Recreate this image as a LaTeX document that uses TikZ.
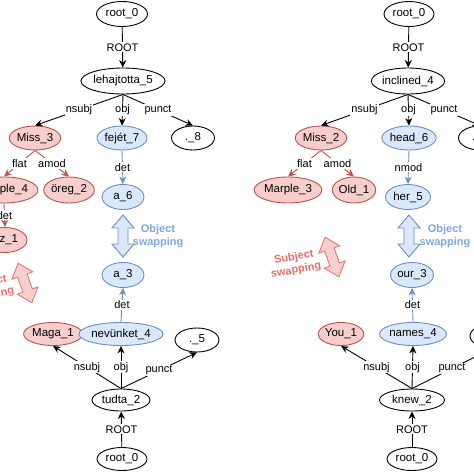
\documentclass[tikz,border=0pt]{standalone}
\usepackage{fontspec}
\setmainfont{Liberation Sans}
\usetikzlibrary{shapes.geometric,arrows.meta}
\definecolor{redfill}{HTML}{F8CECC}
\definecolor{redline}{HTML}{B85450}
\definecolor{bluefill}{HTML}{DAE8FC}
\definecolor{blueline}{HTML}{6C8EBF}
\definecolor{subjtext}{HTML}{EA6B66}
\definecolor{objtext}{HTML}{7EA6E0}
\definecolor{subjarrline}{HTML}{E07B78}
\definecolor{subjarrfill}{HTML}{F8CECC}
\newcommand{\swaparrow}{(0,-21) -- (11,-8) -- (5,-8) -- (5,8) -- (11,8) -- (0,21) -- (-11,8) -- (-5,8) -- (-5,-8) -- (-11,-8) -- cycle}
\begin{document}
\begin{tikzpicture}[x=1pt,y=-1pt,
  tok/.style={ellipse, draw=black, line width=0.9pt, inner sep=0pt, font=\fontsize{11.5}{13}\selectfont},
  subjtok/.style={tok, draw=redline, fill=redfill},
  objtok/.style={tok, draw=blueline, fill=bluefill},
  sz/.style 2 args={minimum width=#1pt, minimum height=#2pt},
  edge/.style={draw=black, line width=0.9pt, -{Stealth[length=7.5pt,width=7pt]}},
  subjedge/.style={edge, draw=redline, -{Stealth[length=7.5pt,width=7pt,color=redline]}},
  objedge/.style={edge, draw=blueline, -{Stealth[length=7.5pt,width=7pt,color=blueline]}},
  lab/.style={fill=white, inner sep=1pt, font=\fontsize{11}{13}\selectfont, text=black},
  objarrow/.style={draw=blueline, fill=bluefill, line width=0.9pt, line join=miter},
  subjarrow/.style={draw=subjarrline, fill=subjarrfill, line width=0.9pt, line join=miter},
  objlab/.style={align=center, font=\bfseries\fontsize{11}{13}\selectfont, text=objtext, inner sep=0pt},
  subjlab/.style={align=center, font=\bfseries\fontsize{11}{13}\selectfont, text=subjtext, inner sep=0pt},
]
\useasboundingbox (0,0) rectangle (474,474);
\clip (0,0) rectangle (474,474);

% ===== Left tree =====
\node[tok, sz={51}{25}] (lr0) at (122,14) {root\_0};
\node[tok, sz={68}{26}] (leh) at (123,81) {lehajtotta\_5};
\node[subjtok, sz={44}{24}] (miss3) at (35,138) {Miss\_3};
\node[objtok, sz={50}{24}] (fej7) at (122,138) {fejét\_7};
\node[tok, sz={43}{24}] (p8) at (193,138) {.\_8};
\node[subjtok, sz={56}{26}] (marple4) at (4,190) {Marple\_4};
\node[subjtok, sz={41}{26}] (oreg2) at (69,190) {öreg\_2};
\node[objtok, sz={42}{25}] (a6) at (123,197) {a\_6};
\node[subjtok, sz={44}{25}] (az1) at (5,240) {Az\_1};
\node[objtok, sz={42}{25}] (a3) at (123,275) {a\_3};
\node[subjtok, sz={43}{23}] (maga1) at (53,334) {Maga\_1};
\node[objtok, sz={52}{23}] (nev4) at (121,334) {nevünket\_4};
\node[tok, sz={44}{24}] (p5) at (197,340) {.\_5};
\node[tok, sz={58}{22}] (tudta2) at (121,400) {tudta\_2};
\node[tok, sz={50}{23}] (lr0b) at (122,459) {root\_0};

\draw[edge] (lr0) -- node[lab]{ROOT} (leh);
\draw[edge] (leh.south) -- node[lab]{nsubj} (miss3.north);
\draw[edge] (leh.south) -- node[lab]{obj} (fej7.north);
\draw[edge] (leh.south) -- node[lab]{punct} (p8.north);
\draw[subjedge] (miss3.south) -- node[lab]{flat} (marple4.north);
\draw[subjedge] (miss3.south) -- node[lab]{amod} (oreg2.north);
\draw[subjedge] (marple4.south) -- node[lab]{det} (az1.north);
\draw[objedge] (fej7.south) -- node[lab]{det} (a6.north);
\draw[objedge] (nev4.north) -- node[lab]{det} (a3.south);
\draw[edge] (tudta2.north) -- node[lab]{nsubj} (maga1.south);
\draw[edge] (tudta2.north) -- node[lab]{obj} (nev4.south);
\draw[edge] (tudta2.north) -- node[lab]{punct} (p5.south);
\draw[edge] (lr0b) -- node[lab]{ROOT} (tudta2);

\begin{scope}[shift={(123,236)}]
  \draw[objarrow] \swaparrow;
\end{scope}
\node[objlab] (lobjtxt) at (158,236) {Object\\swapping};
\begin{scope}[shift={(25,283)}, rotate=19.3]
  \draw[subjarrow] \swaparrow;
\end{scope}
\node[subjlab, rotate=10] (lsubjtxt) at (-12,289) {Subject\\swapping};

% ===== Right tree =====
\node[tok, sz={50}{25}] (rr0) at (409,14) {root\_0};
\node[tok, sz={67}{26}] (incl) at (408,81) {inclined\_4};
\node[subjtok, sz={42}{24}] (miss2) at (321,138) {Miss\_2};
\node[objtok, sz={50}{24}] (head6) at (409,138) {head\_6};
\node[tok, sz={43}{24}] (p7) at (480,138) {.\_7};
\node[subjtok, sz={51}{26}] (marple3) at (288,190) {Marple\_3};
\node[subjtok, sz={41}{26}] (old1) at (354,190) {Old\_1};
\node[objtok, sz={45}{25}] (her5) at (408,197) {her\_5};
\node[objtok, sz={43}{25}] (our3) at (412,275) {our\_3};
\node[subjtok, sz={42}{23}] (you1) at (341,334) {You\_1};
\node[objtok, sz={58}{23}] (names4) at (413,334) {names\_4};
\node[tok, sz={44}{24}] (p5r) at (492,336) {.\_5};
\node[tok, sz={65}{22}] (knew2) at (412,400) {knew\_2};
\node[tok, sz={50}{23}] (rr0b) at (412,459) {root\_0};

\draw[edge] (rr0) -- node[lab]{ROOT} (incl);
\draw[edge] (incl.south) -- node[lab]{nsubj} (miss2.north);
\draw[edge] (incl.south) -- node[lab]{obj} (head6.north);
\draw[edge] (incl.south) -- node[lab]{punct} (p7.north);
\draw[subjedge] (miss2.south) -- node[lab]{flat} (marple3.north);
\draw[subjedge] (miss2.south) -- node[lab]{amod} (old1.north);
\draw[objedge] (head6.south) -- node[lab]{nmod} (her5.north);
\draw[objedge] (names4.north) -- node[lab]{det} (our3.south);
\draw[edge] (knew2.north) -- node[lab]{nsubj} (you1.south);
\draw[edge] (knew2.north) -- node[lab]{obj} (names4.south);
\draw[edge] (knew2.north) -- node[lab]{punct} (p5r.south);
\draw[edge] (rr0b) -- node[lab]{ROOT} (knew2);

\begin{scope}[shift={(409,236)}]
  \draw[objarrow] \swaparrow;
\end{scope}
\node[objlab] (robjtxt) at (445,236) {Object\\swapping};
\begin{scope}[shift={(332,257)}, rotate=19.3]
  \draw[subjarrow] \swaparrow;
\end{scope}
\node[subjlab, rotate=10] (rsubjtxt) at (295,264) {Subject\\swapping};
\end{tikzpicture}
\end{document}
